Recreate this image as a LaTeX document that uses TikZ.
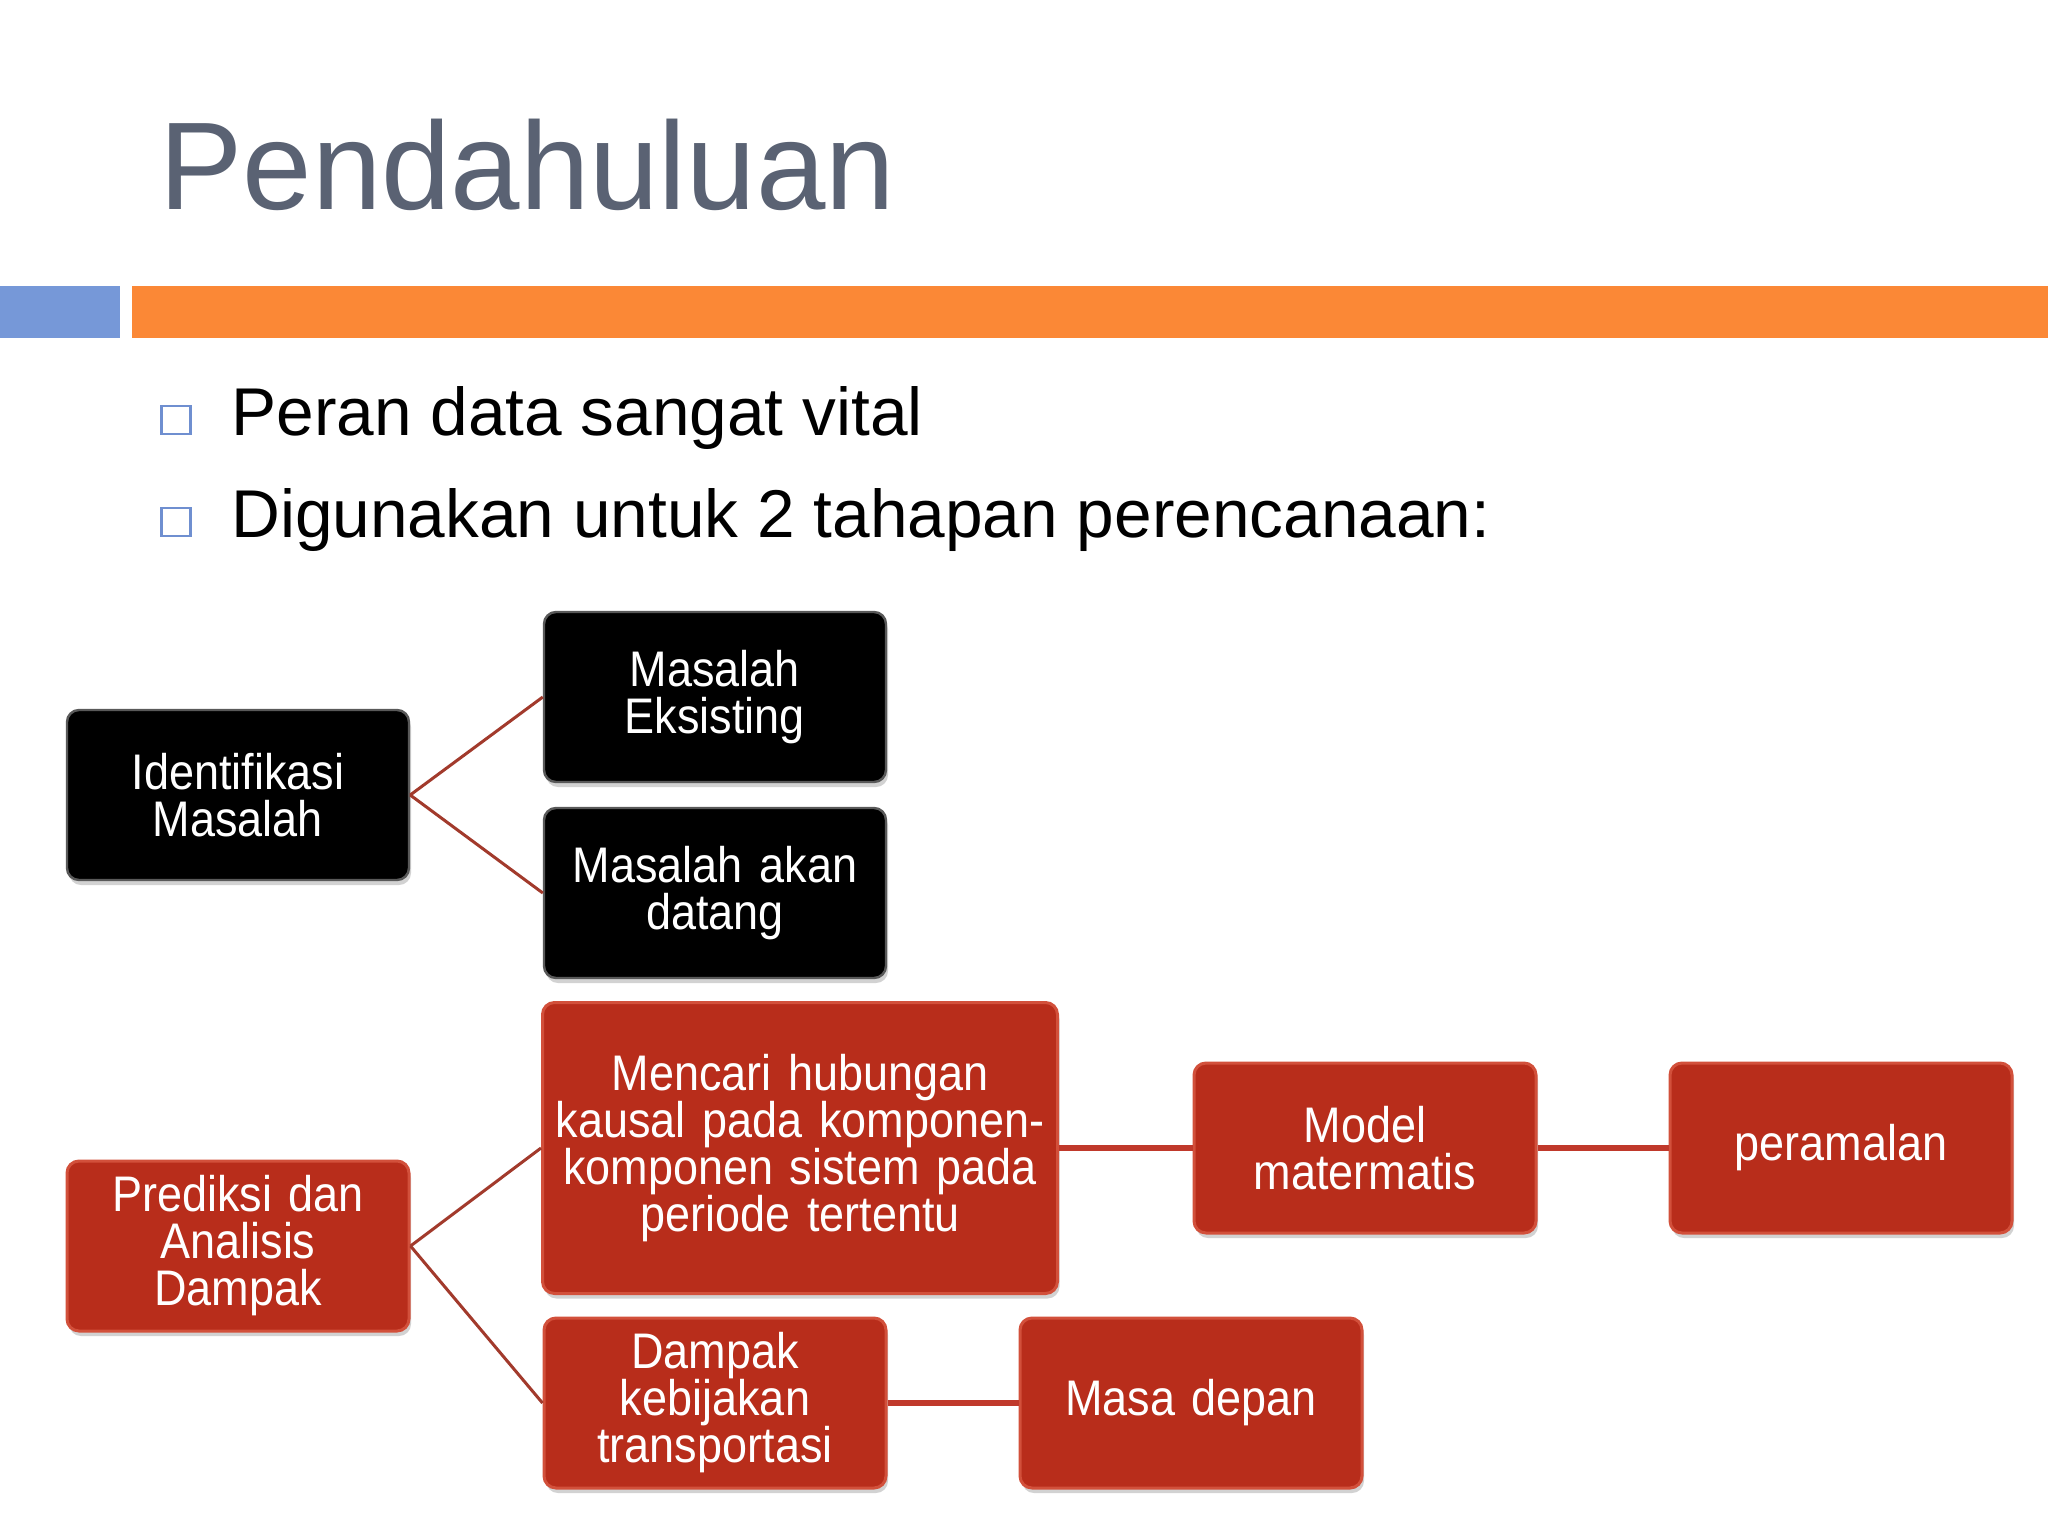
\documentclass[tikz,border=0pt]{standalone}
\usepackage{fontspec}
\setmainfont{Liberation Sans}
\newfontfamily\boxfont[FakeStretch=0.9]{Liberation Sans}
\usetikzlibrary{shadows}
\definecolor{titlegray}{HTML}{5A6273}
\definecolor{barblue}{HTML}{7698D8}
\definecolor{barorange}{HTML}{FB8836}
\definecolor{boxred}{HTML}{B82D1B}
\definecolor{boxrededge}{HTML}{D2503B}
\definecolor{linkdark}{HTML}{A23A2C}
\definecolor{linkred}{HTML}{C0392B}
\definecolor{bulletblue}{HTML}{6F8FD0}
\begin{document}
\begin{tikzpicture}[x=0.5pt,y=-0.5pt,
  box/.style={rounded corners=6pt, align=center, text=white,
    font=\boxfont\fontsize{25}{23.5}\selectfont, inner sep=0pt,
    drop shadow={opacity=0.35, shadow xshift=1pt, shadow yshift=-2.5pt}},
  blackbox/.style={box, fill=black, draw=black!65, line width=1.2pt},
  redbox/.style={box, fill=boxred, draw=boxrededge, line width=1.5pt},
  stdbox/.style={minimum width=171pt, minimum height=85pt, text width=165pt},
  thinlink/.style={draw=linkdark, line width=1.5pt},
  thicklink/.style={draw=linkred, line width=2.6pt},
  bulletsq/.style={draw=bulletblue, line width=1.3pt, minimum width=14.5pt, minimum height=14pt, inner sep=0pt},
  bullettext/.style={anchor=base west, inner sep=0pt, font=\fontsize{33.8}{40}\selectfont},
]
\useasboundingbox[fill=white] (0,0) rectangle (2048,1536);

% title
\node[anchor=base west, inner sep=0pt, text=titlegray, font=\fontsize{62.4}{70}\selectfont] (title) at (159,209) {Pendahuluan};

% bars
\fill[barblue] (0,286) rectangle (120,338);
\fill[barorange] (132,286) rectangle (2048,338);

% bullets
\node[bulletsq] (b1) at (176,420) {};
\node[bullettext] (t1) at (231,435) {Peran data sangat vital};
\node[bulletsq] (b2) at (176,522) {};
\node[bullettext] (t2) at (231,537) {Digunakan untuk 2 tahapan perencanaan:};

% boxes
\node[blackbox, stdbox] (idm) at (238,795) {Identifikasi\\Masalah};
\node[blackbox, stdbox] (me) at (715,697) {Masalah\\Eksisting};
\node[blackbox, stdbox] (mad) at (715,893) {Masalah akan\\datang};

\node[redbox, stdbox] (pad) at (238,1246) {Prediksi dan\\Analisis\\Dampak};
\node[redbox, minimum width=257.5pt, minimum height=145.5pt, text width=255pt] (mh) at (800,1148) {Mencari hubungan\\kausal pada komponen-\\komponen sistem pada\\periode tertentu};
\node[redbox, stdbox] (mm) at (1365,1148) {Model\\matermatis};
\node[redbox, stdbox] (per) at (1841,1148) {peramalan};
\node[redbox, stdbox] (dkt) at (715,1403) {Dampak\\kebijakan\\transportasi};
\node[redbox, stdbox] (md) at (1191,1403) {Masa depan};

% connectors
\draw[thinlink] (idm.east) -- (me.west);
\draw[thinlink] (idm.east) -- (mad.west);
\draw[thinlink] (pad.east) -- (mh.west);
\draw[thinlink] (pad.east) -- (dkt.west);
\draw[thicklink] (mh.east) -- (mm.west);
\draw[thicklink] (mm.east) -- (per.west);
\draw[thicklink] (dkt.east) -- (md.west);
\end{tikzpicture}
\end{document}
